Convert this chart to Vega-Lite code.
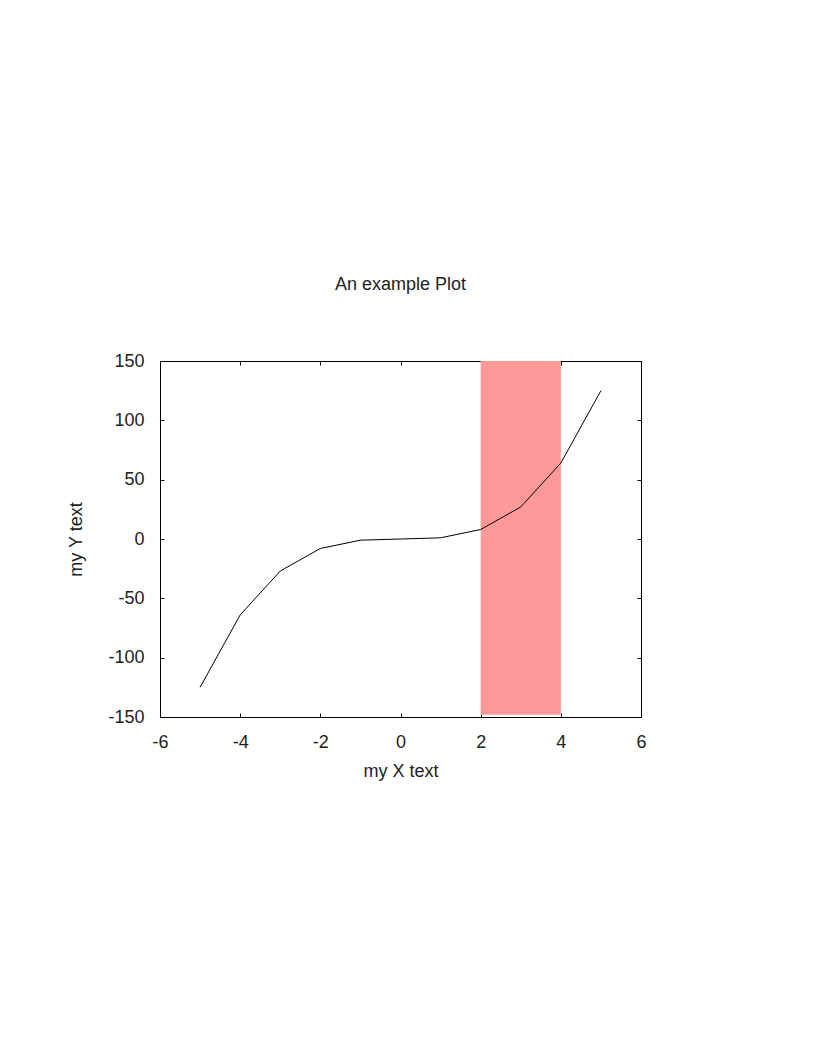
{
  "$schema": "https://vega.github.io/schema/vega-lite/v6.json",
  "width": 481,
  "height": 356,
  "autosize": {"type": "none"},
  "padding": {"left": 160, "top": 361, "right": 175, "bottom": 339},
  "background": "white",
  "title": {"text": "An example Plot", "font": "Liberation Sans", "fontSize": 18, "fontWeight": "normal", "color": "#222", "anchor": "middle", "offset": 44, "baseline": "alphabetic"},
  "config": {
    "view": {"stroke": "black", "strokeWidth": 1},
    "axis": {
      "grid": false,
      "domainColor": "black",
      "tickColor": "black",
      "tickSize": -4,
      "labelColor": "#222",
      "titleColor": "#222",
      "labelFont": "Liberation Sans",
      "titleFont": "Liberation Sans",
      "labelFontSize": 18,
      "titleFontSize": 18,
      "titleFontWeight": "normal",
      "labelFlush": false,
      "labelOverlap": false,
      "labelExpr": "datum.value + ''"
    }
  },
  "layer": [
    {
      "data": {"values": [{"x0": 2, "x1": 4, "y0": -148, "y1": 150}]},
      "mark": {"type": "rect", "color": "#ff9999", "opacity": 1},
      "encoding": {
        "x": {"field": "x0", "type": "quantitative", "scale": {"domain": [-6, 6], "nice": false, "zero": false},
              "axis": {"orient": "bottom", "title": "my X text", "values": [-6, -4, -2, 0, 2, 4, 6], "labelPadding": 20, "titlePadding": 11}},
        "x2": {"field": "x1"},
        "y": {"field": "y0", "type": "quantitative", "scale": {"domain": [-150, 150], "nice": false, "zero": false},
              "axis": {"orient": "left", "title": "my Y text", "values": [-150, -100, -50, 0, 50, 100, 150], "labelPadding": 20, "titlePadding": 22}},
        "y2": {"field": "y1"}
      }
    },
    {
      "data": {"name": "curve", "values": [
        {"x": -5, "y": -125}, {"x": -4, "y": -64}, {"x": -3, "y": -27}, {"x": -2, "y": -8},
        {"x": -1, "y": -1}, {"x": 0, "y": 0}, {"x": 1, "y": 1}, {"x": 2, "y": 8},
        {"x": 3, "y": 27}, {"x": 4, "y": 64}, {"x": 5, "y": 125}
      ]},
      "mark": {"type": "line", "color": "black", "strokeWidth": 1},
      "encoding": {
        "x": {"field": "x", "type": "quantitative", "axis": null},
        "y": {"field": "y", "type": "quantitative", "axis": null}
      }
    },
    {
      "data": {"values": [{"x": -6, "y": -150}, {"x": 6, "y": 150}]},
      "mark": {"type": "point", "opacity": 0},
      "encoding": {
        "x": {"field": "x", "type": "quantitative", "axis": {"orient": "top", "title": null, "labels": false, "values": [-6, -4, -2, 0, 2, 4, 6]}},
        "y": {"field": "y", "type": "quantitative", "axis": {"orient": "right", "title": null, "labels": false, "values": [-150, -100, -50, 0, 50, 100, 150]}}
      }
    }
  ],
  "resolve": {"axis": {"x": "independent", "y": "independent"}}
}
